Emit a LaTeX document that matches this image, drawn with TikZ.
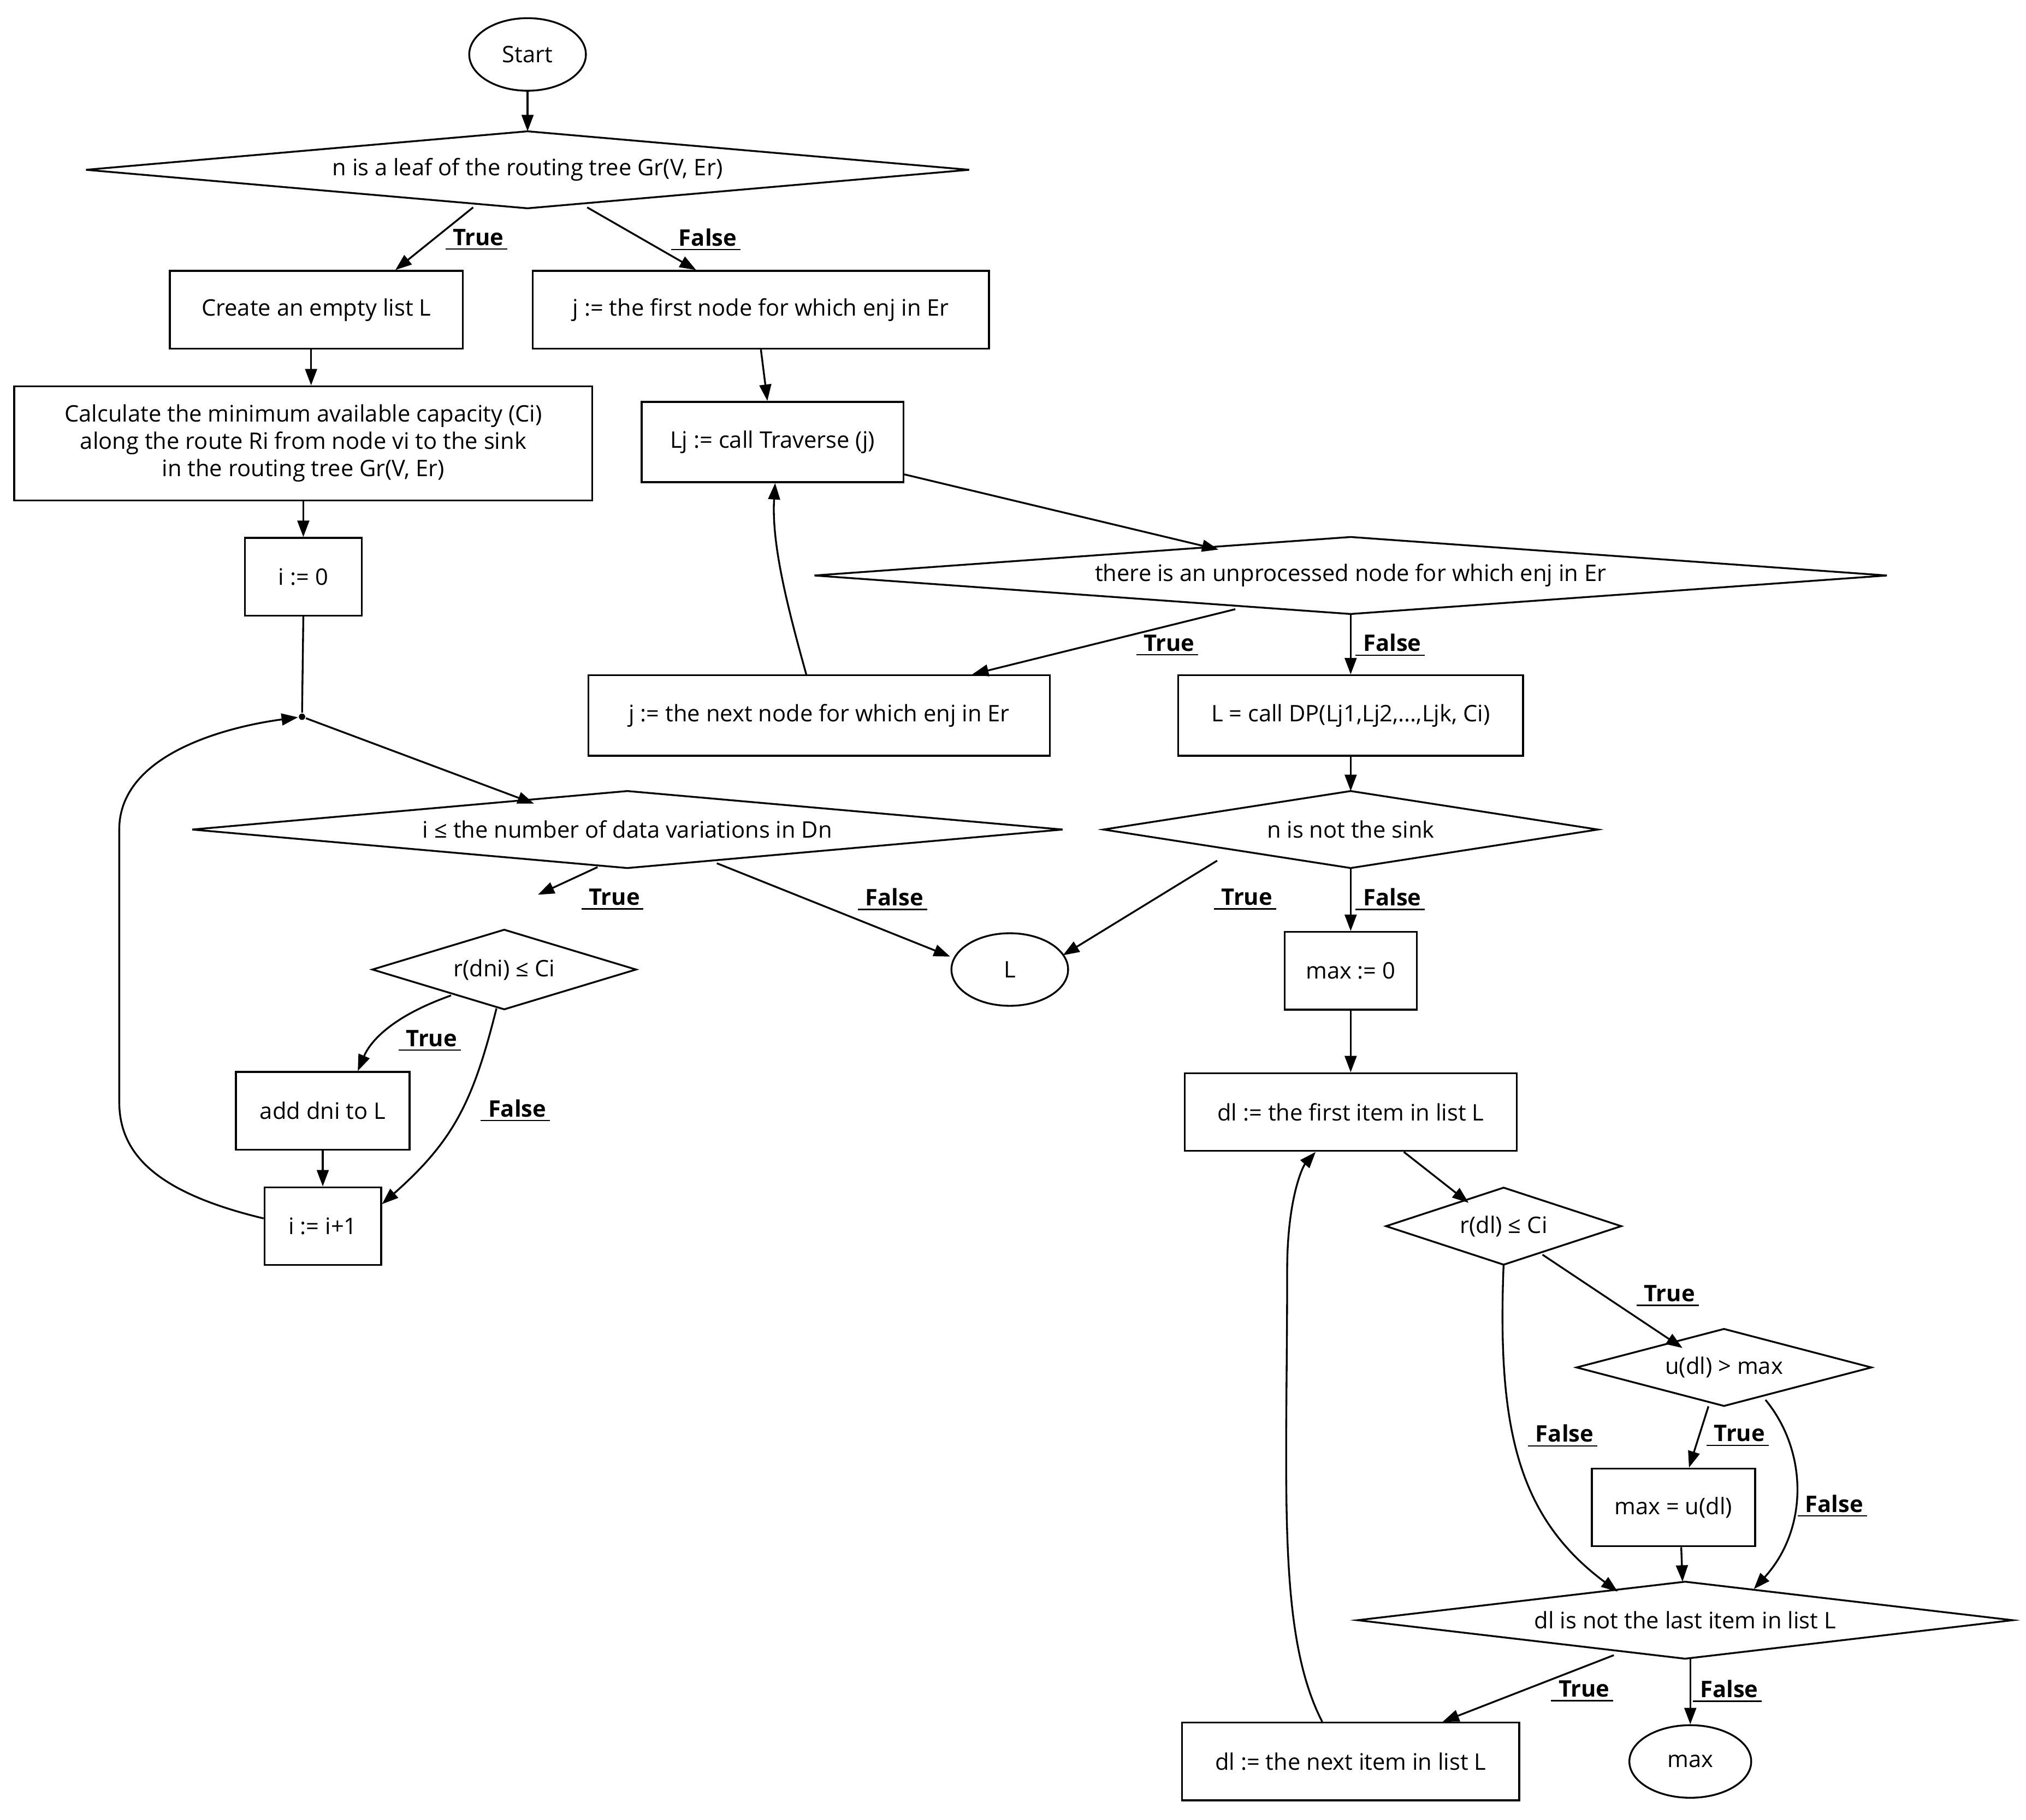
\documentclass[tikz,border=0pt]{standalone}
\usepackage{fontspec}
\setmainfont{Open Sans}
\usetikzlibrary{calc,arrows.meta,shapes.geometric}
\begin{document}
\begin{tikzpicture}[x=0.05cm,y=-0.05cm,line width=2pt,
 every node/.style={font=\fontsize{25}{30}\selectfont},
 box/.style={draw,rectangle,inner sep=0pt,align=center},
 ell/.style={draw,ellipse,inner sep=0pt},
 dia/.style={inner sep=0pt,align=center},
 lbl/.style={font=\fontsize{25}{30}\selectfont\bfseries,inner sep=3pt},
 arr/.style={-{Triangle[length=18pt,width=13pt]}}]
\useasboundingbox (0,0) rectangle (1563,1404);
\node[ell,minimum width=4.5cm,minimum height=2.8cm] (start) at (407,42) {Start};
\node[dia,minimum width=34cm,minimum height=2.9cm] (d1) at (407,131) {n is a leaf of the routing tree Gr(V, Er)};
\node[box,minimum width=11.3cm,minimum height=3cm] (create) at (244,239) {Create an empty list L};
\node[box,minimum width=17.6cm,minimum height=3cm] (jfirst) at (587,239) {j := the first node for which enj in Er};
\node[box,minimum width=22.3cm,minimum height=4.4cm] (calc) at (234,342) {Calculate the minimum available capacity (Ci)\\along the route Ri from node vi to the sink\\in the routing tree Gr(V, Er)};
\node[box,minimum width=10.1cm,minimum height=3.1cm] (Lj) at (596,341) {Lj := call Traverse (j)};
\node[box,minimum width=4.5cm,minimum height=3cm] (i0) at (234,445) {i := 0};
\node[dia,minimum width=41.3cm,minimum height=2.9cm] (d2) at (1042,444) {there is an unprocessed node for which enj in Er};
\node[box,minimum width=17.8cm,minimum height=3.1cm] (jnext) at (632,552) {j := the next node for which enj in Er};
\node[box,minimum width=13.3cm,minimum height=3.1cm] (Lcall) at (1042,552) {L = call DP(Lj1,Lj2,...,Ljk, Ci)};
\node[circle,fill,inner sep=0pt,minimum size=7pt] (dot) at (233,553) {};
\node[dia,minimum width=33.5cm,minimum height=2.9cm] (d3) at (484,640) {i ≤ the number of data variations in Dn};
\node[dia,minimum width=19cm,minimum height=2.9cm] (d4) at (1042,640) {n is not the sink};
\node[dia,minimum width=10.1cm,minimum height=3cm] (d5) at (389,748) {r(dni) ≤ Ci};
\node[ell,minimum width=4.5cm,minimum height=2.8cm] (L) at (779,748) {L};
\node[box,minimum width=5.1cm,minimum height=3cm] (max0) at (1042,749) {max := 0};
\node[box,minimum width=6.7cm,minimum height=3cm] (add) at (249,857) {add dni to L};
\node[box,minimum width=12.8cm,minimum height=3cm] (dlfirst) at (1042,858) {dl := the first item in list L};
\node[box,minimum width=4.5cm,minimum height=3cm] (inc) at (249,946) {i := i+1};
\node[dia,minimum width=9cm,minimum height=2.9cm] (d6) at (1160,946) {r(dl) ≤ Ci};
\node[dia,minimum width=11.3cm,minimum height=2.9cm] (d7) at (1330,1055) {u(dl) > max};
\node[box,minimum width=6.3cm,minimum height=3cm] (maxu) at (1291,1163) {max = u(dl)};
\node[dia,minimum width=25.2cm,minimum height=2.9cm] (d8) at (1300,1250) {dl is not the last item in list L};
\node[box,minimum width=13cm,minimum height=3cm] (dlnext) at (1042,1359) {dl := the next item in list L};
\node[ell,minimum width=4.7cm,minimum height=2.8cm] (max) at (1304,1359) {max};
\foreach \d in {d1,d2,d3,d4,d5,d6,d7,d8}
  \draw (\d.north) -- (\d.east) -- (\d.south) -- (\d.west) -- cycle;

\draw[arr] (start) -- (d1);
\draw[arr] ($(d1.center)+(-42,29)$) -- ($(create.north)+(61,0)$);
\node[lbl] (l1) at (369,183) {True};
\draw[arr] ($(d1.center)+(46,29)$) -- ($(jfirst.north)+(-50,0)$);
\node[lbl] (l2) at (546,183) {False};
\draw[arr] ($(create.south)+(-4,0)$) -- ($(calc.north)+(6,0)$);
\draw[arr] (jfirst.south) -- ($(Lj.north)+(-4,0)$);
\draw[arr] (calc) -- (i0);
\draw[arr] ($(Lj.east)+(0,25)$) -- ($(d2.center)+(-102,-20)$);
\draw[arr] ($(d2.center)+(-89,26)$) -- ($(jnext.north)+(118,0)$);
\node[lbl] (l3) at (902,496) {True};
\draw[arr] (d2.south) -- (Lcall.north);
\node[lbl] (l4) at (1074,496) {False};
\draw[arr] ($(jnext.north)+(-10,0)$) .. controls (608,470) and (595,420) .. ($(Lj.south)+(2,0)$);
\draw (i0.south) -- (dot);
\draw[arr] (dot) -- ($(d3.center)+(-72,-20)$);
\draw[arr] ($(inc.west)+(0,-6)$) .. controls (120,920) and (92,890) .. (92,850) -- (92,640) .. controls (92,580) and (180,560) .. (dot);
\draw[arr] (Lcall) -- (d4);
\draw[arr] ($(d3.center)+(-23,29)$) -- ($(d5.north)+(26,-27)$);
\node[lbl] (l5) at (474,692) {True};
\draw[arr] ($(d3.center)+(69,26)$) -- ($(L.center)+(-46,-10)$);
\node[lbl] (l6) at (690,692) {False};
\draw[arr] ($(d4.center)+(-103,24)$) -- ($(L.center)+(41,-11)$);
\node[lbl] (l7) at (962,692) {True};
\draw[arr] (d4.south) -- (max0.north);
\node[lbl] (l8) at (1074,692) {False};
\draw[arr] ($(d5.center)+(-41,20)$) .. controls (300,785) and (285,805) .. ($(add.north)+(27,0)$);
\node[lbl] (l9) at (333,801) {True};
\draw[arr] ($(d5.center)+(-6,30)$) .. controls (365,850) and (350,880) .. ($(inc.east)+(0,-17)$);
\node[lbl] (l10) at (399,855) {False};
\draw[arr] (add) -- (inc);
\draw[arr] (max0) -- (dlfirst);
\draw[arr] ($(dlfirst.south)+(41,0)$) -- ($(d6.center)+(-27,-18)$);
\draw[arr] ($(d6.center)+(30,22)$) -- ($(d7.center)+(-32,-15)$);
\node[lbl] (l11) at (1288,998) {True};
\draw[arr] ($(d6.center)+(0,29)$) .. controls (1155,1100) and (1170,1170) .. ($(d8.center)+(-52,-22)$);
\node[lbl] (l12) at (1207,1106) {False};
\draw[arr] ($(d7.center)+(-12,30)$) -- ($(maxu.north)+(12,0)$);
\node[lbl] (l13) at (1342,1106) {True};
\draw[arr] ($(d7.center)+(32,25)$) .. controls (1395,1120) and (1395,1180) .. ($(d8.center)+(53,-24)$);
\node[lbl] (l14) at (1415,1160) {False};
\draw[arr] ($(maxu.south)+(6,0)$) -- ($(d8.north)+(-2,0)$);
\draw[arr] ($(d8.center)+(-55,27)$) -- ($(dlnext.north)+(71,0)$);
\node[lbl] (l15) at (1222,1303) {True};
\draw[arr] ($(d8.center)+(4,29)$) -- (max.north);
\node[lbl] (l16) at (1334,1303) {False};
\draw[arr] ($(dlnext.north)+(-22,0)$) .. controls (985,1260) and (993,1150) .. (993,980) .. controls (993,925) and (1005,900) .. ($(dlfirst.south)+(-27,0)$);
\foreach \l in {l1,l2,l3,l4,l5,l6,l7,l8,l9,l10,l11,l12,l13,l14,l15,l16}
  \draw[line width=1.5pt] ($(\l.south west)+(-3,0)$) -- (\l.south east);
\end{tikzpicture}
\end{document}
